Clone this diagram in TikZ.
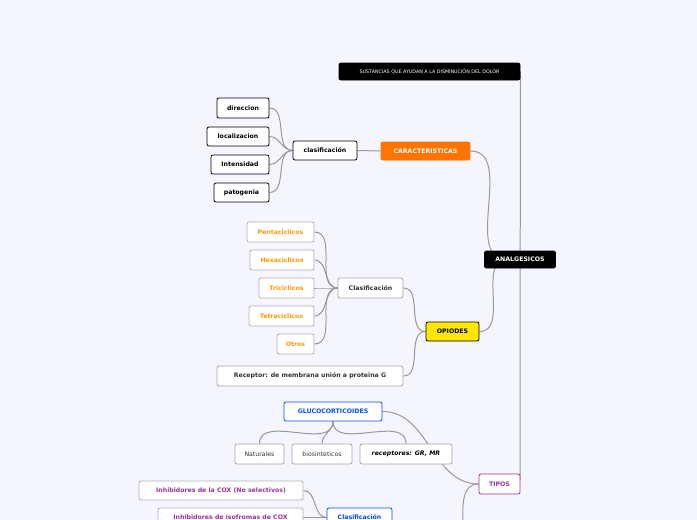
\documentclass[tikz,border=0pt]{standalone}
\usepackage{fontspec}
\setmainfont{DejaVu Sans}
\usetikzlibrary{backgrounds}
\begin{document}
\begin{tikzpicture}[x=1pt,y=-1pt,
 box/.style={draw=#1,rounded corners=2pt,line width=0.8pt,fill=white,inner sep=0pt,font=\fontsize{6.2}{7}\selectfont\bfseries},
 gbox/.style={box=gray!70,text=black!80},
 kbox/.style={box=black,text=black},
 obox/.style={box=gray!60,text=orange!80!yellow},
 pbox/.style={box=gray!60,text=violet!80},
 ln/.style={draw=gray!80,line width=1pt}]
\useasboundingbox (0,0) rectangle (697,520);
% nodes
\node[box=black,fill=black,text=white,minimum width=181,minimum height=17,font=\fontsize{4.8}{5}\selectfont] (sus) at (429.5,71.5) {SUSTANCIAS QUE AYUDAN A LA DISMINUCIÓN DEL DOLOR};
\node[box=black,fill=black,text=white,minimum width=71,minimum height=17] (an) at (520,259.5) {ANALGESICOS};
\node[box=orange!90!red,fill=orange!90!red,text=white,minimum width=89,minimum height=18] (car) at (425.5,151) {CARACTERISTICAS};
\node[kbox,minimum width=64,minimum height=19] (cl1) at (325,150.5) {clasificación};
\node[kbox,minimum width=52,minimum height=20] (d1) at (243,108) {direccion};
\node[kbox,minimum width=62,minimum height=19] (d2) at (238,136.5) {localizacion};
\node[kbox,minimum width=58,minimum height=19] (d3) at (240,164.5) {Intensidad};
\node[kbox,minimum width=55,minimum height=19] (d4) at (241.5,192.5) {patogenia};
\node[box=black,fill=yellow!90!orange,text=black,minimum width=53,minimum height=19] (op) at (452.5,331.5) {OPIODES};
\node[gbox,minimum width=65,minimum height=20] (cl2) at (370.5,288) {Clasificación};
\node[obox,minimum width=67,minimum height=20] (o1) at (280.5,232) {Pentaciclicos};
\node[obox,minimum width=64,minimum height=20] (o2) at (282,260) {Hexaciclicos};
\node[obox,minimum width=55,minimum height=20] (o3) at (286.5,288) {Triciclicos};
\node[obox,minimum width=65,minimum height=20] (o4) at (281.5,316) {Tetraciclicos};
\node[obox,minimum width=37,minimum height=20] (o5) at (295.5,344) {Otros};
\node[gbox,minimum width=186,minimum height=20] (rec) at (310,376) {Receptor: de membrana unión a proteina G};
\node[box=blue!70!cyan,text=blue!70!cyan,minimum width=98,minimum height=19] (glu) at (333,411.5) {GLUCOCORTICOIDES};
\node[box=gray!70,text=black!80,font=\fontsize{6.2}{7}\selectfont,minimum width=49,minimum height=20] (g1) at (259.5,454) {Naturales};
\node[box=gray!70,text=black!80,font=\fontsize{6.2}{7}\selectfont,minimum width=60,minimum height=20] (g2) at (322,454) {biosinteticos};
\node[box=gray!70,text=black,font=\fontsize{6.2}{7}\selectfont\bfseries\itshape,minimum width=92,minimum height=20] (g3) at (406,454) {receptores: GR, MR};
\node[box=violet!80,text=violet!80,minimum width=41,minimum height=20] (ti) at (499.5,484) {TIPOS};
\node[pbox,minimum width=164,minimum height=19] (i1) at (221,490.5) {Inhibidores de la COX (No selectivos)};
\node[pbox,minimum width=145,minimum height=19] (i2) at (230.5,517.5) {Inhibidores de isofromas de COX};
\node[box=blue!70!cyan,text=blue!70!cyan,minimum width=65,minimum height=19] (cl3) at (359.5,517.5) {Clasificación};
\coordinate (bot) at (463,530);
\coordinate (hub) at (507,259.5);
% edges
\begin{scope}[on background layer]
\fill[blue!4] (0,0) rectangle (697,520);
\draw[ln] (sus.east) -- (520,480);
\draw[ln] (hub) to[out=180,in=0] (car.east);
\draw[ln] (hub) to[out=180,in=0] (op.east);
\draw[ln] (car.west) -- (cl1.east);
\foreach \c in {d1,d2,d3,d4} \draw[ln] (cl1.west) to[out=180,in=0] (\c.east);
\draw[ln] (op.west) to[out=180,in=0] (cl2.east);
\draw[ln] (op.west) to[out=180,in=0] (rec.east);
\foreach \c in {o1,o2,o3,o4,o5} \draw[ln] (cl2.west) to[out=180,in=0] (\c.east);
\draw[ln] (ti.west) to[out=180,in=0] (glu.east);
\draw[ln] (ti.west) to[out=180,in=90] (bot);
\foreach \c in {g1,g2,g3} \draw[ln] (glu.south) to[out=-90,in=90] (\c.north);
\foreach \c in {i1,i2} \draw[ln] (cl3.west) to[out=180,in=0] (\c.east);
\end{scope}
\end{tikzpicture}
\end{document}
